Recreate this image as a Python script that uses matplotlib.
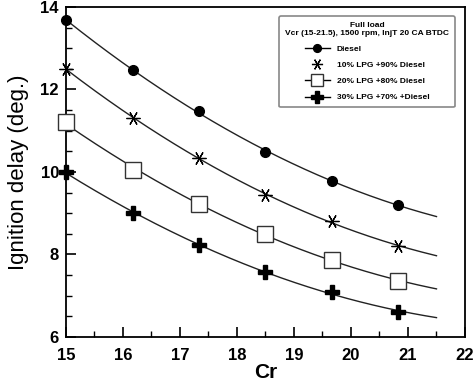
import numpy as np
import matplotlib
matplotlib.use("Agg")
import matplotlib.pyplot as plt
from matplotlib.ticker import MultipleLocator

plt.rcParams["font.family"] = ["Liberation Sans", "DejaVu Sans"]

cr = [15.0, 16.17, 17.33, 18.5, 19.67, 20.83]
diesel = [13.68, 12.47, 11.48, 10.48, 9.77, 9.2]
lpg10 = [12.5, 11.31, 10.34, 9.44, 8.8, 8.2]
lpg20 = [11.2, 10.05, 9.22, 8.5, 7.87, 7.35]
lpg30 = [10.0, 9.0, 8.22, 7.57, 7.1, 6.6]

labels = ["Diesel", "10% LPG +90% Diesel", "20% LPG +80% Diesel", "30% LPG +70% +Diesel"]

fig = plt.figure(figsize=(4.74, 3.82), dpi=100)
ax = fig.add_axes([0.139, 0.118, 0.842, 0.864])

x_fit = np.linspace(15, 21.5, 200)
styles = [
    dict(marker="o", markersize=7, color="black"),
    dict(marker=(6, 2, 30), markersize=10, color="black", markeredgewidth=0.9),
    dict(marker="s", markersize=11, markerfacecolor="white", markeredgecolor="#333333", markeredgewidth=1.0),
    dict(marker="P", markersize=10, color="black"),
]
handles = []
for series, label, st in zip([diesel, lpg10, lpg20, lpg30], labels, styles):
    coef = np.polyfit(cr, series, 2)
    ax.plot(x_fit, np.polyval(coef, x_fit), color="#222222", linewidth=1.0)
    ax.plot(cr, series, linestyle="none", clip_on=False, zorder=3, **st)
    lw = 0 if st["marker"] == (6, 2, 30) else 1.0
    leg_st = dict(st)
    leg_st["markersize"] = st["markersize"] * 0.8
    h, = ax.plot([], [], color="black", linewidth=lw, **{k: v for k, v in leg_st.items() if k != "color"})
    handles.append(h)

ax.set_xlim(15, 22)
ax.set_ylim(6, 14)
ax.xaxis.set_major_locator(MultipleLocator(1))
ax.xaxis.set_minor_locator(MultipleLocator(0.5))
ax.yaxis.set_major_locator(MultipleLocator(2))
ax.yaxis.set_minor_locator(MultipleLocator(0.5))
ax.tick_params(which="major", direction="in", length=7, width=1.2, labelsize=12, pad=5)
ax.tick_params(axis="x", which="major", pad=8)
ax.tick_params(which="minor", direction="in", length=4, width=1.0)
for lab in ax.get_xticklabels() + ax.get_yticklabels():
    lab.set_fontweight("bold")
for sp in ax.spines.values():
    sp.set_linewidth(1.3)

ax.set_xlabel("Cr", fontsize=15, fontweight="bold", labelpad=0)
ax.set_ylabel("Ignition delay (deg.)", fontsize=16, labelpad=8)

leg = ax.legend(handles, labels, loc="upper right", bbox_to_anchor=(0.985, 0.985),
                title="Full load\nVcr (15-21.5), 1500 rpm, InjT 20 CA BTDC",
                title_fontproperties={"size": 6, "weight": "bold"},
                prop={"size": 6, "weight": "bold"}, fancybox=True,
                edgecolor="#888888", framealpha=1, handlelength=3, labelspacing=1.0,
                borderpad=0.7)
leg.get_title().set_multialignment("center")
leg.get_frame().set_linewidth(1.2)

fig.savefig("out.png", dpi=100)
